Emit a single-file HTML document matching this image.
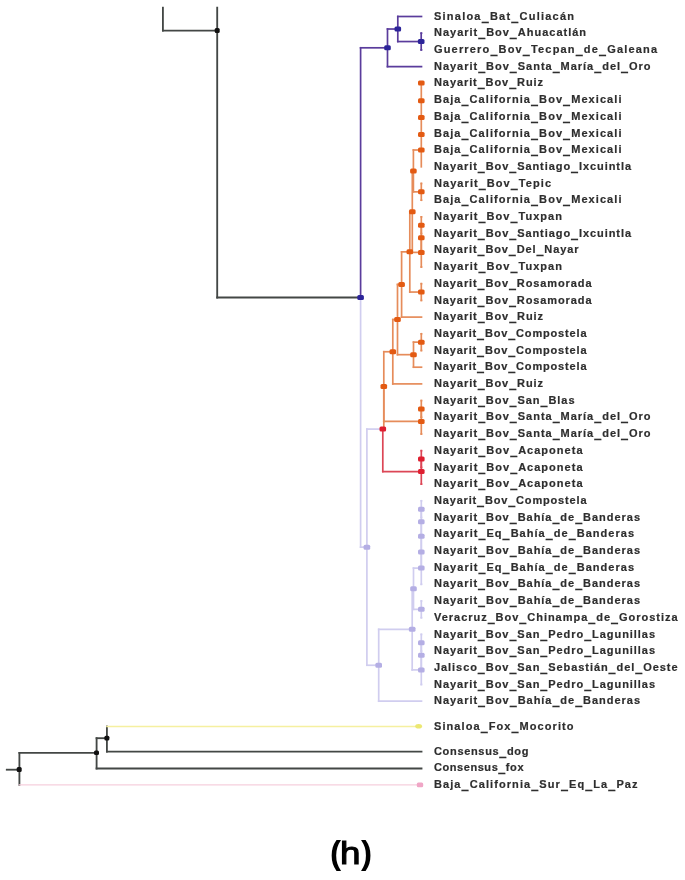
<!DOCTYPE html>
<html><head><meta charset="utf-8"><style>
html,body{margin:0;padding:0;background:#fff;}
body{width:685px;height:880px;overflow:hidden;position:relative;}
svg{position:absolute;left:0;top:0;}
.lb text{font-family:"Liberation Sans",Arial,sans-serif;font-size:11.0px;font-weight:bold;fill:#2e2e2e;stroke:#2e2e2e;stroke-width:0.2px;}
.lb .u{font-family:"DejaVu Sans",sans-serif;font-size:14px;}
</style></head><body>
<svg width="685" height="880" viewBox="0 0 685 880">
<g fill="none" stroke-linecap="square">
<line x1="162.90" y1="7.70" x2="162.90" y2="30.60" stroke="#434745" stroke-width="1.85"/>
<line x1="162.90" y1="30.60" x2="217.20" y2="30.60" stroke="#434745" stroke-width="1.85"/>
<line x1="217.20" y1="7.70" x2="217.20" y2="297.49" stroke="#434745" stroke-width="1.85"/>
<line x1="217.20" y1="297.49" x2="360.60" y2="297.49" stroke="#434745" stroke-width="1.85"/>
<line x1="421.30" y1="83.30" x2="421.30" y2="166.80" stroke="#e68c5a" stroke-width="1.7"/>
<line x1="360.60" y1="47.81" x2="360.60" y2="297.49" stroke="#5a3c9c" stroke-width="1.7"/>
<line x1="360.60" y1="47.81" x2="387.50" y2="47.81" stroke="#5a3c9c" stroke-width="1.7"/>
<line x1="387.50" y1="29.02" x2="387.50" y2="47.81" stroke="#5a3c9c" stroke-width="1.7"/>
<line x1="387.50" y1="29.02" x2="397.80" y2="29.02" stroke="#5a3c9c" stroke-width="1.7"/>
<line x1="397.80" y1="16.50" x2="397.80" y2="29.02" stroke="#5a3c9c" stroke-width="1.7"/>
<line x1="397.80" y1="16.50" x2="421.50" y2="16.50" stroke="#5a3c9c" stroke-width="1.7"/>
<line x1="397.80" y1="29.02" x2="397.80" y2="41.55" stroke="#5a3c9c" stroke-width="1.7"/>
<line x1="397.80" y1="41.55" x2="421.20" y2="41.55" stroke="#5a3c9c" stroke-width="1.7"/>
<line x1="421.20" y1="33.20" x2="421.20" y2="41.55" stroke="#5a3c9c" stroke-width="1.7"/>
<line x1="421.20" y1="33.20" x2="421.50" y2="33.20" stroke="#5a3c9c" stroke-width="1.7"/>
<line x1="421.20" y1="41.55" x2="421.20" y2="49.90" stroke="#5a3c9c" stroke-width="1.7"/>
<line x1="421.20" y1="49.90" x2="421.50" y2="49.90" stroke="#5a3c9c" stroke-width="1.7"/>
<line x1="387.50" y1="47.81" x2="387.50" y2="66.60" stroke="#5a3c9c" stroke-width="1.7"/>
<line x1="387.50" y1="66.60" x2="421.50" y2="66.60" stroke="#5a3c9c" stroke-width="1.7"/>
<line x1="360.60" y1="297.49" x2="360.60" y2="547.17" stroke="#d0cdef" stroke-width="1.7"/>
<line x1="360.60" y1="547.17" x2="366.90" y2="547.17" stroke="#d0cdef" stroke-width="1.7"/>
<line x1="366.90" y1="429.09" x2="366.90" y2="547.17" stroke="#d0cdef" stroke-width="1.7"/>
<line x1="366.90" y1="429.09" x2="382.80" y2="429.09" stroke="#d0cdef" stroke-width="1.7"/>
<line x1="383.80" y1="386.61" x2="383.80" y2="429.09" stroke="#e68c5a" stroke-width="1.7"/>
<line x1="382.80" y1="386.61" x2="383.80" y2="386.61" stroke="#e68c5a" stroke-width="1.7"/>
<line x1="383.80" y1="351.74" x2="383.80" y2="386.61" stroke="#e68c5a" stroke-width="1.7"/>
<line x1="383.80" y1="351.74" x2="392.80" y2="351.74" stroke="#e68c5a" stroke-width="1.7"/>
<line x1="392.80" y1="319.58" x2="392.80" y2="351.74" stroke="#e68c5a" stroke-width="1.7"/>
<line x1="392.80" y1="319.58" x2="397.50" y2="319.58" stroke="#e68c5a" stroke-width="1.7"/>
<line x1="397.50" y1="284.48" x2="397.50" y2="319.58" stroke="#e68c5a" stroke-width="1.7"/>
<line x1="397.50" y1="284.48" x2="401.60" y2="284.48" stroke="#e68c5a" stroke-width="1.7"/>
<line x1="401.60" y1="251.85" x2="401.60" y2="284.48" stroke="#e68c5a" stroke-width="1.7"/>
<line x1="401.60" y1="251.85" x2="409.80" y2="251.85" stroke="#e68c5a" stroke-width="1.7"/>
<line x1="409.80" y1="211.66" x2="409.80" y2="251.85" stroke="#e68c5a" stroke-width="1.7"/>
<line x1="409.80" y1="211.66" x2="412.30" y2="211.66" stroke="#e68c5a" stroke-width="1.7"/>
<line x1="412.30" y1="170.93" x2="412.30" y2="211.66" stroke="#e68c5a" stroke-width="1.7"/>
<line x1="412.30" y1="170.93" x2="413.40" y2="170.93" stroke="#e68c5a" stroke-width="1.7"/>
<line x1="413.40" y1="150.00" x2="413.40" y2="170.93" stroke="#e68c5a" stroke-width="1.7"/>
<line x1="413.40" y1="150.00" x2="421.30" y2="150.00" stroke="#e68c5a" stroke-width="1.7"/>
<line x1="413.40" y1="170.93" x2="413.40" y2="191.85" stroke="#e68c5a" stroke-width="1.7"/>
<line x1="413.40" y1="191.85" x2="421.30" y2="191.85" stroke="#e68c5a" stroke-width="1.7"/>
<line x1="421.30" y1="183.50" x2="421.30" y2="191.85" stroke="#e68c5a" stroke-width="1.7"/>
<line x1="421.30" y1="183.50" x2="421.50" y2="183.50" stroke="#e68c5a" stroke-width="1.7"/>
<line x1="421.30" y1="191.85" x2="421.30" y2="200.20" stroke="#e68c5a" stroke-width="1.7"/>
<line x1="421.30" y1="200.20" x2="421.50" y2="200.20" stroke="#e68c5a" stroke-width="1.7"/>
<line x1="412.30" y1="211.66" x2="412.30" y2="252.39" stroke="#e68c5a" stroke-width="1.7"/>
<line x1="412.30" y1="252.39" x2="421.30" y2="252.39" stroke="#e68c5a" stroke-width="1.7"/>
<line x1="421.30" y1="237.77" x2="421.30" y2="252.39" stroke="#e68c5a" stroke-width="1.7"/>
<line x1="421.30" y1="225.25" x2="421.30" y2="237.77" stroke="#e68c5a" stroke-width="1.7"/>
<line x1="421.30" y1="216.90" x2="421.30" y2="225.25" stroke="#e68c5a" stroke-width="1.7"/>
<line x1="421.30" y1="216.90" x2="421.50" y2="216.90" stroke="#e68c5a" stroke-width="1.7"/>
<line x1="421.30" y1="225.25" x2="421.30" y2="233.60" stroke="#e68c5a" stroke-width="1.7"/>
<line x1="421.30" y1="233.60" x2="421.50" y2="233.60" stroke="#e68c5a" stroke-width="1.7"/>
<line x1="421.30" y1="237.77" x2="421.30" y2="250.30" stroke="#e68c5a" stroke-width="1.7"/>
<line x1="421.30" y1="250.30" x2="421.50" y2="250.30" stroke="#e68c5a" stroke-width="1.7"/>
<line x1="421.30" y1="252.39" x2="421.30" y2="267.00" stroke="#e68c5a" stroke-width="1.7"/>
<line x1="421.30" y1="267.00" x2="421.50" y2="267.00" stroke="#e68c5a" stroke-width="1.7"/>
<line x1="409.80" y1="251.85" x2="409.80" y2="292.05" stroke="#e68c5a" stroke-width="1.7"/>
<line x1="409.80" y1="292.05" x2="421.30" y2="292.05" stroke="#e68c5a" stroke-width="1.7"/>
<line x1="421.30" y1="283.70" x2="421.30" y2="292.05" stroke="#e68c5a" stroke-width="1.7"/>
<line x1="421.30" y1="283.70" x2="421.50" y2="283.70" stroke="#e68c5a" stroke-width="1.7"/>
<line x1="421.30" y1="292.05" x2="421.30" y2="300.40" stroke="#e68c5a" stroke-width="1.7"/>
<line x1="421.30" y1="300.40" x2="421.50" y2="300.40" stroke="#e68c5a" stroke-width="1.7"/>
<line x1="401.60" y1="284.48" x2="401.60" y2="317.10" stroke="#e68c5a" stroke-width="1.7"/>
<line x1="401.60" y1="317.10" x2="421.50" y2="317.10" stroke="#e68c5a" stroke-width="1.7"/>
<line x1="397.50" y1="319.58" x2="397.50" y2="354.67" stroke="#e68c5a" stroke-width="1.7"/>
<line x1="397.50" y1="354.67" x2="413.50" y2="354.67" stroke="#e68c5a" stroke-width="1.7"/>
<line x1="413.50" y1="342.15" x2="413.50" y2="354.67" stroke="#e68c5a" stroke-width="1.7"/>
<line x1="413.50" y1="342.15" x2="421.30" y2="342.15" stroke="#e68c5a" stroke-width="1.7"/>
<line x1="421.30" y1="333.80" x2="421.30" y2="342.15" stroke="#e68c5a" stroke-width="1.7"/>
<line x1="421.30" y1="333.80" x2="421.50" y2="333.80" stroke="#e68c5a" stroke-width="1.7"/>
<line x1="421.30" y1="342.15" x2="421.30" y2="350.50" stroke="#e68c5a" stroke-width="1.7"/>
<line x1="421.30" y1="350.50" x2="421.50" y2="350.50" stroke="#e68c5a" stroke-width="1.7"/>
<line x1="413.50" y1="354.67" x2="413.50" y2="367.20" stroke="#e68c5a" stroke-width="1.7"/>
<line x1="413.50" y1="367.20" x2="421.50" y2="367.20" stroke="#e68c5a" stroke-width="1.7"/>
<line x1="392.80" y1="351.74" x2="392.80" y2="383.90" stroke="#e68c5a" stroke-width="1.7"/>
<line x1="392.80" y1="383.90" x2="421.50" y2="383.90" stroke="#e68c5a" stroke-width="1.7"/>
<line x1="383.80" y1="386.61" x2="383.80" y2="421.47" stroke="#e68c5a" stroke-width="1.7"/>
<line x1="383.80" y1="421.47" x2="421.30" y2="421.47" stroke="#e68c5a" stroke-width="1.7"/>
<line x1="421.30" y1="408.95" x2="421.30" y2="421.47" stroke="#e68c5a" stroke-width="1.7"/>
<line x1="421.30" y1="400.60" x2="421.30" y2="408.95" stroke="#e68c5a" stroke-width="1.7"/>
<line x1="421.30" y1="400.60" x2="421.50" y2="400.60" stroke="#e68c5a" stroke-width="1.7"/>
<line x1="421.30" y1="408.95" x2="421.30" y2="417.30" stroke="#e68c5a" stroke-width="1.7"/>
<line x1="421.30" y1="417.30" x2="421.50" y2="417.30" stroke="#e68c5a" stroke-width="1.7"/>
<line x1="421.30" y1="421.47" x2="421.30" y2="434.00" stroke="#e68c5a" stroke-width="1.7"/>
<line x1="421.30" y1="434.00" x2="421.50" y2="434.00" stroke="#e68c5a" stroke-width="1.7"/>
<line x1="382.80" y1="429.09" x2="382.80" y2="471.57" stroke="#dc4656" stroke-width="1.7"/>
<line x1="382.80" y1="471.57" x2="421.30" y2="471.57" stroke="#dc4656" stroke-width="1.7"/>
<line x1="421.30" y1="459.05" x2="421.30" y2="471.57" stroke="#dc4656" stroke-width="1.7"/>
<line x1="421.30" y1="450.70" x2="421.30" y2="459.05" stroke="#dc4656" stroke-width="1.7"/>
<line x1="421.30" y1="450.70" x2="421.50" y2="450.70" stroke="#dc4656" stroke-width="1.7"/>
<line x1="421.30" y1="459.05" x2="421.30" y2="467.40" stroke="#dc4656" stroke-width="1.7"/>
<line x1="421.30" y1="467.40" x2="421.50" y2="467.40" stroke="#dc4656" stroke-width="1.7"/>
<line x1="421.30" y1="471.57" x2="421.30" y2="484.10" stroke="#dc4656" stroke-width="1.7"/>
<line x1="421.30" y1="484.10" x2="421.50" y2="484.10" stroke="#dc4656" stroke-width="1.7"/>
<line x1="366.90" y1="547.17" x2="366.90" y2="665.26" stroke="#d0cdef" stroke-width="1.7"/>
<line x1="366.90" y1="665.26" x2="378.70" y2="665.26" stroke="#d0cdef" stroke-width="1.7"/>
<line x1="378.70" y1="629.31" x2="378.70" y2="665.26" stroke="#d0cdef" stroke-width="1.7"/>
<line x1="378.70" y1="629.31" x2="412.20" y2="629.31" stroke="#d0cdef" stroke-width="1.7"/>
<line x1="412.20" y1="588.74" x2="412.20" y2="629.31" stroke="#d0cdef" stroke-width="1.7"/>
<line x1="412.20" y1="588.74" x2="413.50" y2="588.74" stroke="#d0cdef" stroke-width="1.7"/>
<line x1="413.50" y1="568.12" x2="413.50" y2="588.74" stroke="#d0cdef" stroke-width="1.7"/>
<line x1="413.50" y1="568.12" x2="421.30" y2="568.12" stroke="#d0cdef" stroke-width="1.7"/>
<line x1="421.30" y1="551.94" x2="421.30" y2="568.12" stroke="#d0cdef" stroke-width="1.7"/>
<line x1="421.30" y1="536.29" x2="421.30" y2="551.94" stroke="#d0cdef" stroke-width="1.7"/>
<line x1="421.30" y1="521.67" x2="421.30" y2="536.29" stroke="#d0cdef" stroke-width="1.7"/>
<line x1="421.30" y1="509.15" x2="421.30" y2="521.67" stroke="#d0cdef" stroke-width="1.7"/>
<line x1="421.30" y1="500.80" x2="421.30" y2="509.15" stroke="#d0cdef" stroke-width="1.7"/>
<line x1="421.30" y1="500.80" x2="421.50" y2="500.80" stroke="#d0cdef" stroke-width="1.7"/>
<line x1="421.30" y1="509.15" x2="421.30" y2="517.50" stroke="#d0cdef" stroke-width="1.7"/>
<line x1="421.30" y1="517.50" x2="421.50" y2="517.50" stroke="#d0cdef" stroke-width="1.7"/>
<line x1="421.30" y1="521.67" x2="421.30" y2="534.20" stroke="#d0cdef" stroke-width="1.7"/>
<line x1="421.30" y1="534.20" x2="421.50" y2="534.20" stroke="#d0cdef" stroke-width="1.7"/>
<line x1="421.30" y1="536.29" x2="421.30" y2="550.90" stroke="#d0cdef" stroke-width="1.7"/>
<line x1="421.30" y1="550.90" x2="421.50" y2="550.90" stroke="#d0cdef" stroke-width="1.7"/>
<line x1="421.30" y1="551.94" x2="421.30" y2="567.60" stroke="#d0cdef" stroke-width="1.7"/>
<line x1="421.30" y1="567.60" x2="421.50" y2="567.60" stroke="#d0cdef" stroke-width="1.7"/>
<line x1="421.30" y1="568.12" x2="421.30" y2="584.30" stroke="#d0cdef" stroke-width="1.7"/>
<line x1="421.30" y1="584.30" x2="421.50" y2="584.30" stroke="#d0cdef" stroke-width="1.7"/>
<line x1="413.50" y1="588.74" x2="413.50" y2="609.35" stroke="#d0cdef" stroke-width="1.7"/>
<line x1="413.50" y1="609.35" x2="421.30" y2="609.35" stroke="#d0cdef" stroke-width="1.7"/>
<line x1="421.30" y1="601.00" x2="421.30" y2="609.35" stroke="#d0cdef" stroke-width="1.7"/>
<line x1="421.30" y1="601.00" x2="421.50" y2="601.00" stroke="#d0cdef" stroke-width="1.7"/>
<line x1="421.30" y1="609.35" x2="421.30" y2="617.70" stroke="#d0cdef" stroke-width="1.7"/>
<line x1="421.30" y1="617.70" x2="421.50" y2="617.70" stroke="#d0cdef" stroke-width="1.7"/>
<line x1="412.20" y1="629.31" x2="412.20" y2="669.89" stroke="#d0cdef" stroke-width="1.7"/>
<line x1="412.20" y1="669.89" x2="421.30" y2="669.89" stroke="#d0cdef" stroke-width="1.7"/>
<line x1="421.30" y1="655.27" x2="421.30" y2="669.89" stroke="#d0cdef" stroke-width="1.7"/>
<line x1="421.30" y1="642.75" x2="421.30" y2="655.27" stroke="#d0cdef" stroke-width="1.7"/>
<line x1="421.30" y1="634.40" x2="421.30" y2="642.75" stroke="#d0cdef" stroke-width="1.7"/>
<line x1="421.30" y1="634.40" x2="421.50" y2="634.40" stroke="#d0cdef" stroke-width="1.7"/>
<line x1="421.30" y1="642.75" x2="421.30" y2="651.10" stroke="#d0cdef" stroke-width="1.7"/>
<line x1="421.30" y1="651.10" x2="421.50" y2="651.10" stroke="#d0cdef" stroke-width="1.7"/>
<line x1="421.30" y1="655.27" x2="421.30" y2="667.80" stroke="#d0cdef" stroke-width="1.7"/>
<line x1="421.30" y1="667.80" x2="421.50" y2="667.80" stroke="#d0cdef" stroke-width="1.7"/>
<line x1="421.30" y1="669.89" x2="421.30" y2="684.50" stroke="#d0cdef" stroke-width="1.7"/>
<line x1="421.30" y1="684.50" x2="421.50" y2="684.50" stroke="#d0cdef" stroke-width="1.7"/>
<line x1="378.70" y1="665.26" x2="378.70" y2="701.20" stroke="#d0cdef" stroke-width="1.7"/>
<line x1="378.70" y1="701.20" x2="421.50" y2="701.20" stroke="#d0cdef" stroke-width="1.7"/>
<line x1="6.80" y1="769.70" x2="19.40" y2="769.70" stroke="#434745" stroke-width="1.85"/>
<line x1="19.40" y1="752.90" x2="19.40" y2="784.90" stroke="#434745" stroke-width="1.85"/>
<line x1="19.40" y1="752.90" x2="96.60" y2="752.90" stroke="#434745" stroke-width="1.85"/>
<line x1="19.40" y1="784.90" x2="421.50" y2="784.90" stroke="#f6cfdd" stroke-width="1.4"/>
<line x1="96.60" y1="738.20" x2="96.60" y2="768.50" stroke="#434745" stroke-width="1.85"/>
<line x1="96.60" y1="768.50" x2="421.50" y2="768.50" stroke="#434745" stroke-width="1.85"/>
<line x1="96.60" y1="738.20" x2="106.90" y2="738.20" stroke="#434745" stroke-width="1.85"/>
<line x1="106.90" y1="726.50" x2="106.90" y2="751.60" stroke="#434745" stroke-width="1.85"/>
<line x1="106.90" y1="726.50" x2="421.50" y2="726.50" stroke="#f5f0a0" stroke-width="1.4"/>
<line x1="106.90" y1="751.60" x2="421.50" y2="751.60" stroke="#434745" stroke-width="1.85"/>
<rect x="214.70" y="28.10" width="5" height="5" rx="1.5" fill="#111"/>
<rect x="418.00" y="80.40" width="6.6" height="5.0" rx="1.5" fill="#e35a12"/>
<rect x="418.00" y="98.20" width="6.6" height="5.0" rx="1.5" fill="#e35a12"/>
<rect x="418.00" y="115.10" width="6.6" height="5.0" rx="1.5" fill="#e35a12"/>
<rect x="418.00" y="132.00" width="6.6" height="5.0" rx="1.5" fill="#e35a12"/>
<rect x="418.00" y="147.50" width="6.6" height="5.0" rx="1.5" fill="#e35a12"/>
<rect x="417.90" y="39.05" width="6.6" height="5.0" rx="1.5" fill="#2c2499"/>
<rect x="394.50" y="26.52" width="6.6" height="5.0" rx="1.5" fill="#2c2499"/>
<rect x="384.20" y="45.31" width="6.6" height="5.0" rx="1.5" fill="#2c2499"/>
<rect x="418.00" y="189.35" width="6.6" height="5.0" rx="1.5" fill="#e35a12"/>
<rect x="410.10" y="168.43" width="6.6" height="5.0" rx="1.5" fill="#e35a12"/>
<rect x="418.00" y="222.75" width="6.6" height="5.0" rx="1.5" fill="#e35a12"/>
<rect x="418.00" y="235.27" width="6.6" height="5.0" rx="1.5" fill="#e35a12"/>
<rect x="418.00" y="249.89" width="6.6" height="5.0" rx="1.5" fill="#e35a12"/>
<rect x="409.00" y="209.16" width="6.6" height="5.0" rx="1.5" fill="#e35a12"/>
<rect x="418.00" y="289.55" width="6.6" height="5.0" rx="1.5" fill="#e35a12"/>
<rect x="406.50" y="249.35" width="6.6" height="5.0" rx="1.5" fill="#e35a12"/>
<rect x="398.30" y="281.98" width="6.6" height="5.0" rx="1.5" fill="#e35a12"/>
<rect x="418.00" y="339.65" width="6.6" height="5.0" rx="1.5" fill="#e35a12"/>
<rect x="410.20" y="352.17" width="6.6" height="5.0" rx="1.5" fill="#e35a12"/>
<rect x="394.20" y="317.08" width="6.6" height="5.0" rx="1.5" fill="#e35a12"/>
<rect x="389.50" y="349.24" width="6.6" height="5.0" rx="1.5" fill="#e35a12"/>
<rect x="418.00" y="406.45" width="6.6" height="5.0" rx="1.5" fill="#e35a12"/>
<rect x="418.00" y="418.97" width="6.6" height="5.0" rx="1.5" fill="#e35a12"/>
<rect x="380.50" y="384.11" width="6.6" height="5.0" rx="1.5" fill="#e35a12"/>
<rect x="418.00" y="456.55" width="6.6" height="5.0" rx="1.5" fill="#de1f30"/>
<rect x="418.00" y="469.07" width="6.6" height="5.0" rx="1.5" fill="#de1f30"/>
<rect x="379.50" y="426.59" width="6.6" height="5.0" rx="1.5" fill="#de1f30"/>
<rect x="418.00" y="506.65" width="6.6" height="5.0" rx="1.5" fill="#b4aee4"/>
<rect x="418.00" y="519.17" width="6.6" height="5.0" rx="1.5" fill="#b4aee4"/>
<rect x="418.00" y="533.79" width="6.6" height="5.0" rx="1.5" fill="#b4aee4"/>
<rect x="418.00" y="549.44" width="6.6" height="5.0" rx="1.5" fill="#b4aee4"/>
<rect x="418.00" y="565.62" width="6.6" height="5.0" rx="1.5" fill="#b4aee4"/>
<rect x="418.00" y="606.85" width="6.6" height="5.0" rx="1.5" fill="#b4aee4"/>
<rect x="410.20" y="586.24" width="6.6" height="5.0" rx="1.5" fill="#b4aee4"/>
<rect x="418.00" y="640.25" width="6.6" height="5.0" rx="1.5" fill="#b4aee4"/>
<rect x="418.00" y="652.77" width="6.6" height="5.0" rx="1.5" fill="#b4aee4"/>
<rect x="418.00" y="667.39" width="6.6" height="5.0" rx="1.5" fill="#b4aee4"/>
<rect x="408.90" y="626.81" width="6.6" height="5.0" rx="1.5" fill="#b4aee4"/>
<rect x="375.40" y="662.76" width="6.6" height="5.0" rx="1.5" fill="#b4aee4"/>
<rect x="363.60" y="544.67" width="6.6" height="5.0" rx="1.5" fill="#b4aee4"/>
<rect x="357.30" y="294.99" width="6.6" height="5.0" rx="1.5" fill="#2c2499"/>
<rect x="16.70" y="767.00" width="5" height="5" rx="1.5" fill="#111"/>
<rect x="94.00" y="750.40" width="5" height="4.6" rx="1.5" fill="#111"/>
<rect x="104.40" y="735.80" width="5" height="4.6" rx="1.5" fill="#111"/>
<ellipse cx="418.60" cy="726.30" rx="3.40" ry="2.30" fill="#ece872"/>
<rect x="416.80" y="782.60" width="6.4" height="4.6" rx="1.5" fill="#f0a6c6"/>
</g>
<g class="lb">
<text x="434.0" y="19.60" textLength="140.00" lengthAdjust="spacing">Sinaloa<tspan class="u">_</tspan>Bat<tspan class="u">_</tspan>Culiacán</text>
<text x="434.0" y="36.30" textLength="152.00" lengthAdjust="spacing">Nayarit<tspan class="u">_</tspan>Bov<tspan class="u">_</tspan>Ahuacatlán</text>
<text x="434.0" y="53.00" textLength="223.00" lengthAdjust="spacing">Guerrero<tspan class="u">_</tspan>Bov<tspan class="u">_</tspan>Tecpan<tspan class="u">_</tspan>de<tspan class="u">_</tspan>Galeana</text>
<text x="434.0" y="69.70" textLength="216.50" lengthAdjust="spacing">Nayarit<tspan class="u">_</tspan>Bov<tspan class="u">_</tspan>Santa<tspan class="u">_</tspan>María<tspan class="u">_</tspan>del<tspan class="u">_</tspan>Oro</text>
<text x="434.0" y="86.40" textLength="109.00" lengthAdjust="spacing">Nayarit<tspan class="u">_</tspan>Bov<tspan class="u">_</tspan>Ruiz</text>
<text x="434.0" y="103.10" textLength="187.50" lengthAdjust="spacing">Baja<tspan class="u">_</tspan>California<tspan class="u">_</tspan>Bov<tspan class="u">_</tspan>Mexicali</text>
<text x="434.0" y="119.80" textLength="187.50" lengthAdjust="spacing">Baja<tspan class="u">_</tspan>California<tspan class="u">_</tspan>Bov<tspan class="u">_</tspan>Mexicali</text>
<text x="434.0" y="136.50" textLength="187.50" lengthAdjust="spacing">Baja<tspan class="u">_</tspan>California<tspan class="u">_</tspan>Bov<tspan class="u">_</tspan>Mexicali</text>
<text x="434.0" y="153.20" textLength="187.50" lengthAdjust="spacing">Baja<tspan class="u">_</tspan>California<tspan class="u">_</tspan>Bov<tspan class="u">_</tspan>Mexicali</text>
<text x="434.0" y="169.90" textLength="197.00" lengthAdjust="spacing">Nayarit<tspan class="u">_</tspan>Bov<tspan class="u">_</tspan>Santiago<tspan class="u">_</tspan>Ixcuintla</text>
<text x="434.0" y="186.60" textLength="117.00" lengthAdjust="spacing">Nayarit<tspan class="u">_</tspan>Bov<tspan class="u">_</tspan>Tepic</text>
<text x="434.0" y="203.30" textLength="187.50" lengthAdjust="spacing">Baja<tspan class="u">_</tspan>California<tspan class="u">_</tspan>Bov<tspan class="u">_</tspan>Mexicali</text>
<text x="434.0" y="220.00" textLength="128.00" lengthAdjust="spacing">Nayarit<tspan class="u">_</tspan>Bov<tspan class="u">_</tspan>Tuxpan</text>
<text x="434.0" y="236.70" textLength="197.00" lengthAdjust="spacing">Nayarit<tspan class="u">_</tspan>Bov<tspan class="u">_</tspan>Santiago<tspan class="u">_</tspan>Ixcuintla</text>
<text x="434.0" y="253.40" textLength="144.50" lengthAdjust="spacing">Nayarit<tspan class="u">_</tspan>Bov<tspan class="u">_</tspan>Del<tspan class="u">_</tspan>Nayar</text>
<text x="434.0" y="270.10" textLength="128.00" lengthAdjust="spacing">Nayarit<tspan class="u">_</tspan>Bov<tspan class="u">_</tspan>Tuxpan</text>
<text x="434.0" y="286.80" textLength="157.50" lengthAdjust="spacing">Nayarit<tspan class="u">_</tspan>Bov<tspan class="u">_</tspan>Rosamorada</text>
<text x="434.0" y="303.50" textLength="157.50" lengthAdjust="spacing">Nayarit<tspan class="u">_</tspan>Bov<tspan class="u">_</tspan>Rosamorada</text>
<text x="434.0" y="320.20" textLength="109.00" lengthAdjust="spacing">Nayarit<tspan class="u">_</tspan>Bov<tspan class="u">_</tspan>Ruiz</text>
<text x="434.0" y="336.90" textLength="152.50" lengthAdjust="spacing">Nayarit<tspan class="u">_</tspan>Bov<tspan class="u">_</tspan>Compostela</text>
<text x="434.0" y="353.60" textLength="152.50" lengthAdjust="spacing">Nayarit<tspan class="u">_</tspan>Bov<tspan class="u">_</tspan>Compostela</text>
<text x="434.0" y="370.30" textLength="152.50" lengthAdjust="spacing">Nayarit<tspan class="u">_</tspan>Bov<tspan class="u">_</tspan>Compostela</text>
<text x="434.0" y="387.00" textLength="109.00" lengthAdjust="spacing">Nayarit<tspan class="u">_</tspan>Bov<tspan class="u">_</tspan>Ruiz</text>
<text x="434.0" y="403.70" textLength="140.50" lengthAdjust="spacing">Nayarit<tspan class="u">_</tspan>Bov<tspan class="u">_</tspan>San<tspan class="u">_</tspan>Blas</text>
<text x="434.0" y="420.40" textLength="216.50" lengthAdjust="spacing">Nayarit<tspan class="u">_</tspan>Bov<tspan class="u">_</tspan>Santa<tspan class="u">_</tspan>María<tspan class="u">_</tspan>del<tspan class="u">_</tspan>Oro</text>
<text x="434.0" y="437.10" textLength="216.50" lengthAdjust="spacing">Nayarit<tspan class="u">_</tspan>Bov<tspan class="u">_</tspan>Santa<tspan class="u">_</tspan>María<tspan class="u">_</tspan>del<tspan class="u">_</tspan>Oro</text>
<text x="434.0" y="453.80" textLength="148.50" lengthAdjust="spacing">Nayarit<tspan class="u">_</tspan>Bov<tspan class="u">_</tspan>Acaponeta</text>
<text x="434.0" y="470.50" textLength="148.50" lengthAdjust="spacing">Nayarit<tspan class="u">_</tspan>Bov<tspan class="u">_</tspan>Acaponeta</text>
<text x="434.0" y="487.20" textLength="148.50" lengthAdjust="spacing">Nayarit<tspan class="u">_</tspan>Bov<tspan class="u">_</tspan>Acaponeta</text>
<text x="434.0" y="503.90" textLength="152.50" lengthAdjust="spacing">Nayarit<tspan class="u">_</tspan>Bov<tspan class="u">_</tspan>Compostela</text>
<text x="434.0" y="520.60" textLength="206.00" lengthAdjust="spacing">Nayarit<tspan class="u">_</tspan>Bov<tspan class="u">_</tspan>Bahía<tspan class="u">_</tspan>de<tspan class="u">_</tspan>Banderas</text>
<text x="434.0" y="537.30" textLength="200.00" lengthAdjust="spacing">Nayarit<tspan class="u">_</tspan>Eq<tspan class="u">_</tspan>Bahía<tspan class="u">_</tspan>de<tspan class="u">_</tspan>Banderas</text>
<text x="434.0" y="554.00" textLength="206.00" lengthAdjust="spacing">Nayarit<tspan class="u">_</tspan>Bov<tspan class="u">_</tspan>Bahía<tspan class="u">_</tspan>de<tspan class="u">_</tspan>Banderas</text>
<text x="434.0" y="570.70" textLength="200.00" lengthAdjust="spacing">Nayarit<tspan class="u">_</tspan>Eq<tspan class="u">_</tspan>Bahía<tspan class="u">_</tspan>de<tspan class="u">_</tspan>Banderas</text>
<text x="434.0" y="587.40" textLength="206.00" lengthAdjust="spacing">Nayarit<tspan class="u">_</tspan>Bov<tspan class="u">_</tspan>Bahía<tspan class="u">_</tspan>de<tspan class="u">_</tspan>Banderas</text>
<text x="434.0" y="604.10" textLength="206.00" lengthAdjust="spacing">Nayarit<tspan class="u">_</tspan>Bov<tspan class="u">_</tspan>Bahía<tspan class="u">_</tspan>de<tspan class="u">_</tspan>Banderas</text>
<text x="434.0" y="620.80" textLength="243.50" lengthAdjust="spacing">Veracruz<tspan class="u">_</tspan>Bov<tspan class="u">_</tspan>Chinampa<tspan class="u">_</tspan>de<tspan class="u">_</tspan>Gorostiza</text>
<text x="434.0" y="637.50" textLength="221.00" lengthAdjust="spacing">Nayarit<tspan class="u">_</tspan>Bov<tspan class="u">_</tspan>San<tspan class="u">_</tspan>Pedro<tspan class="u">_</tspan>Lagunillas</text>
<text x="434.0" y="654.20" textLength="221.00" lengthAdjust="spacing">Nayarit<tspan class="u">_</tspan>Bov<tspan class="u">_</tspan>San<tspan class="u">_</tspan>Pedro<tspan class="u">_</tspan>Lagunillas</text>
<text x="434.0" y="670.90" textLength="243.50" lengthAdjust="spacing">Jalisco<tspan class="u">_</tspan>Bov<tspan class="u">_</tspan>San<tspan class="u">_</tspan>Sebastián<tspan class="u">_</tspan>del<tspan class="u">_</tspan>Oeste</text>
<text x="434.0" y="687.60" textLength="221.00" lengthAdjust="spacing">Nayarit<tspan class="u">_</tspan>Bov<tspan class="u">_</tspan>San<tspan class="u">_</tspan>Pedro<tspan class="u">_</tspan>Lagunillas</text>
<text x="434.0" y="704.30" textLength="206.00" lengthAdjust="spacing">Nayarit<tspan class="u">_</tspan>Bov<tspan class="u">_</tspan>Bahía<tspan class="u">_</tspan>de<tspan class="u">_</tspan>Banderas</text>
<text x="434.0" y="730.20" textLength="139.50" lengthAdjust="spacing">Sinaloa<tspan class="u">_</tspan>Fox<tspan class="u">_</tspan>Mocorito</text>
<text x="434.0" y="754.50" textLength="94.50" lengthAdjust="spacing">Consensus<tspan class="u">_</tspan>dog</text>
<text x="434.0" y="771.25" textLength="89.50" lengthAdjust="spacing">Consensus<tspan class="u">_</tspan>fox</text>
<text x="434.0" y="788.10" textLength="203.50" lengthAdjust="spacing">Baja<tspan class="u">_</tspan>California<tspan class="u">_</tspan>Sur<tspan class="u">_</tspan>Eq<tspan class="u">_</tspan>La<tspan class="u">_</tspan>Paz</text>
</g>
</svg>
<svg width="685" height="880" style="position:absolute;left:0;top:0"><g font-family="Liberation Sans, Arial, sans-serif" font-weight="normal" fill="#000" stroke="#000" stroke-width="1.1">
<text x="330.0" y="863.6" font-size="33.4" font-weight="bold" stroke-width="0">(</text><text transform="translate(340.1 863.8) scale(1.15 1)" font-size="32.0">h</text><text x="361.0" y="863.6" font-size="33.4" font-weight="bold" stroke-width="0">)</text></g></svg>
</body></html>
